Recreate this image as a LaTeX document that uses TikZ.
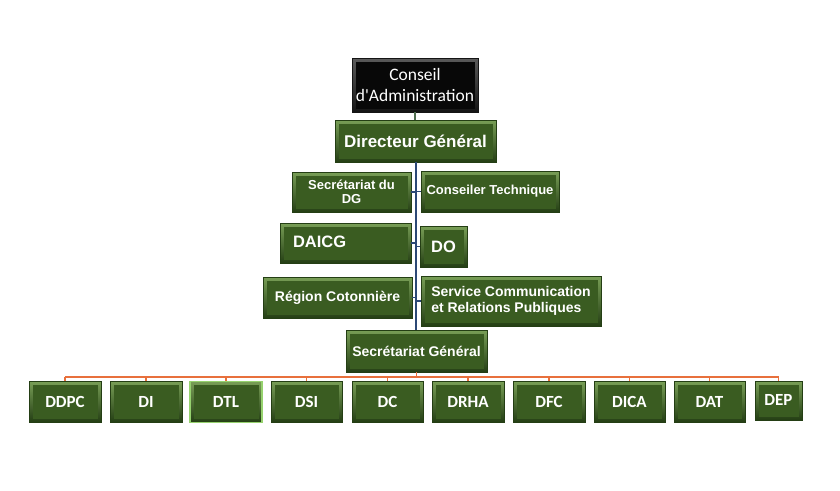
\documentclass[tikz,border=0pt]{standalone}
\usepackage{fontspec}
\setmainfont{Liberation Sans}
\newfontfamily\carlitofont{Carlito}
\definecolor{gdark}{RGB}{58,92,33}
\definecolor{gtop}{RGB}{120,158,86}
\definecolor{gbot}{RGB}{36,62,20}
\definecolor{bdark}{RGB}{8,8,8}
\definecolor{btop}{RGB}{90,90,90}
\definecolor{bbot}{RGB}{20,20,20}
\definecolor{vline}{RGB}{44,72,118}
\definecolor{cline}{RGB}{80,110,80}
\definecolor{oline}{RGB}{232,112,60}
\definecolor{hilite}{RGB}{150,210,110}
\tikzset{
  bevelbox/.style={rectangle, inner sep=0pt, text=white, align=center,
    top color=gtop, bottom color=gbot, draw=gbot, line width=0.4pt,
    path picture={\fill[gdark] ([shift={(3.5pt,3.5pt)}]path picture bounding box.south west) rectangle ([shift={(-3.5pt,-3.5pt)}]path picture bounding box.north east);}},
  blackbox/.style={rectangle, inner sep=0pt, text=white, align=center,
    top color=btop, bottom color=bbot, draw=bbot,
    path picture={\fill[bdark] ([shift={(3.5pt,3.5pt)}]path picture bounding box.south west) rectangle ([shift={(-3.5pt,-3.5pt)}]path picture bounding box.north east);}},
  upfont/.style={font=\bfseries\fontsize{14}{16.5}\selectfont},
  bigfont/.style={font=\bfseries\fontsize{16.5}{18}\selectfont},
  lowbox/.style={bevelbox, minimum height=41pt, font=\carlitofont\bfseries\fontsize{17}{19}\selectfont},
  vconn/.style={draw=vline, line width=2.2pt},
  tconn/.style={draw=vline, line width=1.2pt},
  oconn/.style={draw=oline, line width=1.6pt}
}
\begin{document}
\begin{tikzpicture}[x=1pt,y=-1pt]
\useasboundingbox[fill=white] (0,0) rectangle (840,490);
% upper boxes
\node[blackbox, minimum width=126pt, minimum height=54pt, font=\carlitofont\fontsize{17.5}{21}\selectfont] (CA) at (415,85) {Conseil\\d'Administration};
\node[bevelbox, minimum width=161pt, minimum height=42pt, font=\bfseries\fontsize{17}{19}\selectfont] (DG) at (415.5,141) {Directeur Général};
\node[bevelbox, minimum width=119pt, minimum height=40pt, font=\bfseries\fontsize{13}{14.5}\selectfont] (SDG) at (351.5,192) {Secrétariat du\\DG};
\node[bevelbox, minimum width=138pt, minimum height=41pt, font=\bfseries\fontsize{13}{15}\selectfont] (CT) at (490,191.5) {Conseiler Technique};
\node[bevelbox, bigfont, minimum width=131pt, minimum height=40pt, text width=105pt, inner xsep=13pt, align=left] (DAICG) at (345.5,243) {\raisebox{2pt}{DAICG}};
\node[bevelbox, bigfont, minimum width=47pt, minimum height=41pt] (DO) at (443.5,246.5) {DO};
\node[bevelbox, upfont, minimum width=149pt, minimum height=41pt] (RC) at (337.5,297.5) {Région Cotonnière};
\node[bevelbox, upfont, minimum width=180pt, minimum height=50pt, align=left] (SCRP) at (511,301) {Service Communication\\et Relations Publiques};
\node[bevelbox, upfont, minimum width=141pt, minimum height=42pt] (SG) at (416.5,351) {Secrétariat Général};
% bottom row
\node[lowbox, minimum width=72pt] (DDPC) at (65,401.5) {DDPC};
\node[lowbox, minimum width=72pt] (DI) at (146,401.5) {DI};
\node[lowbox, minimum width=72pt, draw=hilite, line width=1.8pt] (DTL) at (226,402) {DTL};
\node[lowbox, minimum width=71pt] (DSI) at (306.5,401.5) {DSI};
\node[lowbox, minimum width=71pt] (DC) at (387.5,401.5) {DC};
\node[lowbox, minimum width=72pt] (DRHA) at (468,401.5) {DRHA};
\node[lowbox, minimum width=72pt] (DFC) at (549,401.5) {DFC};
\node[lowbox, minimum width=71pt] (DICA) at (629.5,401.5) {DICA};
\node[lowbox, minimum width=71pt] (DAT) at (709.5,401.5) {DAT};
\node[lowbox, minimum width=47pt, minimum height=39pt] (DEP) at (778.5,400.5) {\raisebox{2pt}{DEP}};
% connectors
\draw[draw=cline, line width=1.6pt] (CA.south) -- (CA.south |- DG.north);
\coordinate (vtop) at (416,162);
\coordinate (vbot) at (416,330);
\draw[vconn] (vtop) -- (vbot);
\draw[tconn] (SDG.east) -- (SDG.east -| vtop);
\draw[tconn] (CT.west) -- (CT.west -| vtop);
\draw[tconn] (DAICG.east) -- (DAICG.east -| vtop);
\draw[tconn] (DO.west) -- (DO.west -| vtop);
\draw[tconn] (RC.east) -- (RC.east -| vtop);
\draw[tconn] (SCRP.west) -- (SCRP.west -| vtop);
\coordinate (busL) at (65,377);
\coordinate (busR) at (778.5,377);
\draw[oconn] (busL) -- (busR);
\draw[oconn] (SG.south) -- (SG.south |- busL);
\foreach \n in {DDPC,DI,DTL,DSI,DC,DRHA,DFC,DICA,DAT,DEP}
  \draw[oconn] (\n.north) -- (\n.north |- busL);
\end{tikzpicture}
\end{document}
